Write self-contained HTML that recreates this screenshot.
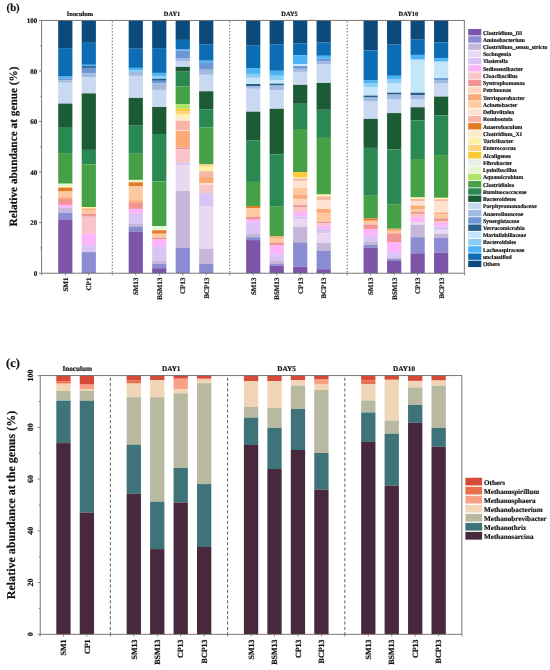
<!DOCTYPE html>
<html><head><meta charset="utf-8"><title>Relative abundance</title>
<style>
html,body{margin:0;padding:0;background:#fff;}
body{width:550px;height:670px;overflow:hidden;}
svg{display:block;filter:blur(0.4px);}
svg text{font-family:"Liberation Serif", serif;font-weight:bold;fill:#111;text-rendering:geometricPrecision;stroke:#111;stroke-width:0.18px;}
</style></head>
<body>
<svg width="550" height="670" viewBox="0 0 550 670">
<rect x="58.2" y="20.4" width="14.2" height="27.7" fill="#0c4a7c"/>
<rect x="58.2" y="48.1" width="14.2" height="28.5" fill="#0d6db4"/>
<rect x="58.2" y="76.6" width="14.2" height="1.8" fill="#4cb4f5"/>
<rect x="58.2" y="78.4" width="14.2" height="2.1" fill="#6c96d4"/>
<rect x="58.2" y="80.5" width="14.2" height="2.2" fill="#a1bae2"/>
<rect x="58.2" y="82.7" width="14.2" height="20.9" fill="#c9d9f1"/>
<rect x="58.2" y="103.6" width="14.2" height="23.4" fill="#1c5c34"/>
<rect x="58.2" y="127" width="14.2" height="26.1" fill="#2a8852"/>
<rect x="58.2" y="153.1" width="14.2" height="30.6" fill="#46a046"/>
<rect x="58.2" y="183.7" width="14.2" height="2.5" fill="#e6f6d2"/>
<rect x="58.2" y="186.2" width="14.2" height="1.4" fill="#fdf2a6"/>
<rect x="58.2" y="187.6" width="14.2" height="3.9" fill="#e07c28"/>
<rect x="58.2" y="191.5" width="14.2" height="5.6" fill="#fdc9a0"/>
<rect x="58.2" y="197.1" width="14.2" height="1.7" fill="#fcaa78"/>
<rect x="58.2" y="198.8" width="14.2" height="6.1" fill="#f39494"/>
<rect x="58.2" y="204.9" width="14.2" height="2.6" fill="#fcb4fa"/>
<rect x="58.2" y="207.5" width="14.2" height="5.4" fill="#c6b6da"/>
<rect x="58.2" y="212.9" width="14.2" height="7" fill="#8c8cd2"/>
<rect x="58.2" y="219.9" width="14.2" height="53.3" fill="#7d55a8"/>
<rect x="81.69" y="20.4" width="14.2" height="22.4" fill="#0c4a7c"/>
<rect x="81.69" y="42.8" width="14.2" height="22" fill="#0d6db4"/>
<rect x="81.69" y="64.8" width="14.2" height="1.3" fill="#4cb4f5"/>
<rect x="81.69" y="66.1" width="14.2" height="1.8" fill="#265e8c"/>
<rect x="81.69" y="67.9" width="14.2" height="5.6" fill="#6c96d4"/>
<rect x="81.69" y="73.5" width="14.2" height="3.5" fill="#a1bae2"/>
<rect x="81.69" y="77" width="14.2" height="16.4" fill="#c9d9f1"/>
<rect x="81.69" y="93.4" width="14.2" height="56.5" fill="#1c5c34"/>
<rect x="81.69" y="149.9" width="14.2" height="14.5" fill="#2a8852"/>
<rect x="81.69" y="164.4" width="14.2" height="42.6" fill="#46a046"/>
<rect x="81.69" y="207" width="14.2" height="1.5" fill="#fdf2a6"/>
<rect x="81.69" y="208.5" width="14.2" height="1.5" fill="#fcaa78"/>
<rect x="81.69" y="210" width="14.2" height="3.8" fill="#fdc9a0"/>
<rect x="81.69" y="213.8" width="14.2" height="2.9" fill="#f39494"/>
<rect x="81.69" y="216.7" width="14.2" height="17.1" fill="#f9c4c8"/>
<rect x="81.69" y="233.8" width="14.2" height="11.1" fill="#fcb4fa"/>
<rect x="81.69" y="244.9" width="14.2" height="7.2" fill="#dac4f6"/>
<rect x="81.69" y="252.1" width="14.2" height="21.1" fill="#8c8cd2"/>
<rect x="128.67" y="20.4" width="14.2" height="28.3" fill="#0c4a7c"/>
<rect x="128.67" y="48.7" width="14.2" height="19.2" fill="#0d6db4"/>
<rect x="128.67" y="67.9" width="14.2" height="2.6" fill="#4cb4f5"/>
<rect x="128.67" y="70.5" width="14.2" height="1.5" fill="#8acdf5"/>
<rect x="128.67" y="72" width="14.2" height="3.9" fill="#a1bae2"/>
<rect x="128.67" y="75.9" width="14.2" height="22" fill="#c9d9f1"/>
<rect x="128.67" y="97.9" width="14.2" height="27.8" fill="#1c5c34"/>
<rect x="128.67" y="125.7" width="14.2" height="28" fill="#2a8852"/>
<rect x="128.67" y="153.7" width="14.2" height="26.2" fill="#46a046"/>
<rect x="128.67" y="179.9" width="14.2" height="1.6" fill="#e6f6d2"/>
<rect x="128.67" y="181.5" width="14.2" height="0.8" fill="#fdf2a6"/>
<rect x="128.67" y="182.3" width="14.2" height="3.8" fill="#e07c28"/>
<rect x="128.67" y="186.1" width="14.2" height="14.2" fill="#fdc9a0"/>
<rect x="128.67" y="200.3" width="14.2" height="2.5" fill="#fcaa78"/>
<rect x="128.67" y="202.8" width="14.2" height="6.1" fill="#f39494"/>
<rect x="128.67" y="208.9" width="14.2" height="4.9" fill="#fcb4fa"/>
<rect x="128.67" y="213.8" width="14.2" height="10.1" fill="#dac4f6"/>
<rect x="128.67" y="223.9" width="14.2" height="2.6" fill="#c6b6da"/>
<rect x="128.67" y="226.5" width="14.2" height="5.4" fill="#8c8cd2"/>
<rect x="128.67" y="231.9" width="14.2" height="41.3" fill="#7d55a8"/>
<rect x="152.16" y="20.4" width="14.2" height="27.7" fill="#0c4a7c"/>
<rect x="152.16" y="48.1" width="14.2" height="24.8" fill="#0d6db4"/>
<rect x="152.16" y="72.9" width="14.2" height="3.6" fill="#4cb4f5"/>
<rect x="152.16" y="76.5" width="14.2" height="2.3" fill="#8acdf5"/>
<rect x="152.16" y="78.8" width="14.2" height="2" fill="#265e8c"/>
<rect x="152.16" y="80.8" width="14.2" height="2.7" fill="#6c96d4"/>
<rect x="152.16" y="83.5" width="14.2" height="6.4" fill="#a1bae2"/>
<rect x="152.16" y="89.9" width="14.2" height="17.1" fill="#c9d9f1"/>
<rect x="152.16" y="107" width="14.2" height="27" fill="#1c5c34"/>
<rect x="152.16" y="134" width="14.2" height="47.5" fill="#2a8852"/>
<rect x="152.16" y="181.5" width="14.2" height="44.5" fill="#46a046"/>
<rect x="152.16" y="226" width="14.2" height="4.3" fill="#e6f6d2"/>
<rect x="152.16" y="230.3" width="14.2" height="3.4" fill="#e07c28"/>
<rect x="152.16" y="233.7" width="14.2" height="4" fill="#fdc9a0"/>
<rect x="152.16" y="237.7" width="14.2" height="1.8" fill="#f39494"/>
<rect x="152.16" y="239.5" width="14.2" height="7.4" fill="#fcb4fa"/>
<rect x="152.16" y="246.9" width="14.2" height="13.5" fill="#dac4f6"/>
<rect x="152.16" y="260.4" width="14.2" height="3.3" fill="#c6b6da"/>
<rect x="152.16" y="263.7" width="14.2" height="4.5" fill="#8c8cd2"/>
<rect x="152.16" y="268.2" width="14.2" height="5" fill="#7d55a8"/>
<rect x="175.65" y="20.4" width="14.2" height="19.5" fill="#0c4a7c"/>
<rect x="175.65" y="39.9" width="14.2" height="9.6" fill="#0d6db4"/>
<rect x="175.65" y="49.5" width="14.2" height="1.1" fill="#4cb4f5"/>
<rect x="175.65" y="50.6" width="14.2" height="8" fill="#6c96d4"/>
<rect x="175.65" y="58.6" width="14.2" height="3" fill="#a1bae2"/>
<rect x="175.65" y="61.6" width="14.2" height="5.3" fill="#c9d9f1"/>
<rect x="175.65" y="66.9" width="14.2" height="4.8" fill="#1c5c34"/>
<rect x="175.65" y="71.7" width="14.2" height="14.6" fill="#2a8852"/>
<rect x="175.65" y="86.3" width="14.2" height="18" fill="#46a046"/>
<rect x="175.65" y="104.3" width="14.2" height="4.5" fill="#b0e468"/>
<rect x="175.65" y="108.8" width="14.2" height="2.3" fill="#fdc935"/>
<rect x="175.65" y="111.1" width="14.2" height="2.9" fill="#fdd480"/>
<rect x="175.65" y="114" width="14.2" height="3" fill="#fdf2a6"/>
<rect x="175.65" y="117" width="14.2" height="3.8" fill="#fdeccc"/>
<rect x="175.65" y="120.8" width="14.2" height="9.3" fill="#f9b6a6"/>
<rect x="175.65" y="130.1" width="14.2" height="0.8" fill="#fde3d0"/>
<rect x="175.65" y="130.9" width="14.2" height="16.4" fill="#fcaa78"/>
<rect x="175.65" y="147.3" width="14.2" height="2" fill="#f39494"/>
<rect x="175.65" y="149.3" width="14.2" height="13.6" fill="#f9c4c8"/>
<rect x="175.65" y="162.9" width="14.2" height="2.5" fill="#dac4f6"/>
<rect x="175.65" y="165.4" width="14.2" height="25.6" fill="#e8d8f2"/>
<rect x="175.65" y="191" width="14.2" height="56.8" fill="#c6b6da"/>
<rect x="175.65" y="247.8" width="14.2" height="25.4" fill="#8c8cd2"/>
<rect x="199.14" y="20.4" width="14.2" height="24.3" fill="#0c4a7c"/>
<rect x="199.14" y="44.7" width="14.2" height="16" fill="#0d6db4"/>
<rect x="199.14" y="60.7" width="14.2" height="2.2" fill="#4cb4f5"/>
<rect x="199.14" y="62.9" width="14.2" height="6.8" fill="#6c96d4"/>
<rect x="199.14" y="69.7" width="14.2" height="5.1" fill="#a1bae2"/>
<rect x="199.14" y="74.8" width="14.2" height="16.5" fill="#c9d9f1"/>
<rect x="199.14" y="91.3" width="14.2" height="18.3" fill="#1c5c34"/>
<rect x="199.14" y="109.6" width="14.2" height="18" fill="#2a8852"/>
<rect x="199.14" y="127.6" width="14.2" height="36.8" fill="#46a046"/>
<rect x="199.14" y="164.4" width="14.2" height="2.3" fill="#fdd480"/>
<rect x="199.14" y="166.7" width="14.2" height="4.5" fill="#fdf2a6"/>
<rect x="199.14" y="171.2" width="14.2" height="5.8" fill="#f9b6a6"/>
<rect x="199.14" y="177" width="14.2" height="6.4" fill="#fcaa78"/>
<rect x="199.14" y="183.4" width="14.2" height="1.4" fill="#fde3d0"/>
<rect x="199.14" y="184.8" width="14.2" height="8.3" fill="#f9c4c8"/>
<rect x="199.14" y="193.1" width="14.2" height="13" fill="#dac4f6"/>
<rect x="199.14" y="206.1" width="14.2" height="42.7" fill="#e8d8f2"/>
<rect x="199.14" y="248.8" width="14.2" height="14.9" fill="#c6b6da"/>
<rect x="199.14" y="263.7" width="14.2" height="9.5" fill="#8c8cd2"/>
<rect x="246.12" y="20.4" width="14.2" height="25.3" fill="#0c4a7c"/>
<rect x="246.12" y="45.7" width="14.2" height="22.4" fill="#0d6db4"/>
<rect x="246.12" y="68.1" width="14.2" height="5.8" fill="#4cb4f5"/>
<rect x="246.12" y="73.9" width="14.2" height="3.9" fill="#8acdf5"/>
<rect x="246.12" y="77.8" width="14.2" height="6.2" fill="#c4e6fb"/>
<rect x="246.12" y="84" width="14.2" height="2.3" fill="#265e8c"/>
<rect x="246.12" y="86.3" width="14.2" height="2.5" fill="#a1bae2"/>
<rect x="246.12" y="88.8" width="14.2" height="22.9" fill="#c9d9f1"/>
<rect x="246.12" y="111.7" width="14.2" height="28.5" fill="#1c5c34"/>
<rect x="246.12" y="140.2" width="14.2" height="41.7" fill="#2a8852"/>
<rect x="246.12" y="181.9" width="14.2" height="24.2" fill="#46a046"/>
<rect x="246.12" y="206.1" width="14.2" height="2" fill="#e07c28"/>
<rect x="246.12" y="208.1" width="14.2" height="8.7" fill="#fdc9a0"/>
<rect x="246.12" y="216.8" width="14.2" height="2.9" fill="#f39494"/>
<rect x="246.12" y="219.7" width="14.2" height="2.9" fill="#fcb4fa"/>
<rect x="246.12" y="222.6" width="14.2" height="11.3" fill="#dac4f6"/>
<rect x="246.12" y="233.9" width="14.2" height="3.3" fill="#c6b6da"/>
<rect x="246.12" y="237.2" width="14.2" height="2.9" fill="#8c8cd2"/>
<rect x="246.12" y="240.1" width="14.2" height="33.1" fill="#7d55a8"/>
<rect x="269.61" y="20.4" width="14.2" height="23.8" fill="#0c4a7c"/>
<rect x="269.61" y="44.2" width="14.2" height="26.6" fill="#0d6db4"/>
<rect x="269.61" y="70.8" width="14.2" height="5" fill="#4cb4f5"/>
<rect x="269.61" y="75.8" width="14.2" height="4.7" fill="#8acdf5"/>
<rect x="269.61" y="80.5" width="14.2" height="3.1" fill="#c4e6fb"/>
<rect x="269.61" y="83.6" width="14.2" height="1.9" fill="#265e8c"/>
<rect x="269.61" y="85.5" width="14.2" height="4.7" fill="#a1bae2"/>
<rect x="269.61" y="90.2" width="14.2" height="18.6" fill="#c9d9f1"/>
<rect x="269.61" y="108.8" width="14.2" height="45.5" fill="#1c5c34"/>
<rect x="269.61" y="154.3" width="14.2" height="52.4" fill="#2a8852"/>
<rect x="269.61" y="206.7" width="14.2" height="29.6" fill="#46a046"/>
<rect x="269.61" y="236.3" width="14.2" height="1.7" fill="#fcaa78"/>
<rect x="269.61" y="238" width="14.2" height="4.5" fill="#fdc9a0"/>
<rect x="269.61" y="242.5" width="14.2" height="3" fill="#f39494"/>
<rect x="269.61" y="245.5" width="14.2" height="9.1" fill="#fcb4fa"/>
<rect x="269.61" y="254.6" width="14.2" height="6.4" fill="#dac4f6"/>
<rect x="269.61" y="261" width="14.2" height="2.7" fill="#c6b6da"/>
<rect x="269.61" y="263.7" width="14.2" height="2" fill="#8c8cd2"/>
<rect x="269.61" y="265.7" width="14.2" height="7.5" fill="#7d55a8"/>
<rect x="293.1" y="20.4" width="14.2" height="23.2" fill="#0c4a7c"/>
<rect x="293.1" y="43.6" width="14.2" height="11.7" fill="#0d6db4"/>
<rect x="293.1" y="55.3" width="14.2" height="8.9" fill="#4cb4f5"/>
<rect x="293.1" y="64.2" width="14.2" height="1.9" fill="#c4e6fb"/>
<rect x="293.1" y="66.1" width="14.2" height="2.7" fill="#6c96d4"/>
<rect x="293.1" y="68.8" width="14.2" height="3.1" fill="#a1bae2"/>
<rect x="293.1" y="71.9" width="14.2" height="13" fill="#c9d9f1"/>
<rect x="293.1" y="84.9" width="14.2" height="18.9" fill="#1c5c34"/>
<rect x="293.1" y="103.8" width="14.2" height="25.2" fill="#2a8852"/>
<rect x="293.1" y="129" width="14.2" height="43.2" fill="#46a046"/>
<rect x="293.1" y="172.2" width="14.2" height="4.8" fill="#fdc935"/>
<rect x="293.1" y="177" width="14.2" height="1.4" fill="#fdf2a6"/>
<rect x="293.1" y="178.4" width="14.2" height="2.5" fill="#f9b6a6"/>
<rect x="293.1" y="180.9" width="14.2" height="6.8" fill="#fde3d0"/>
<rect x="293.1" y="187.7" width="14.2" height="6.8" fill="#fdc9a0"/>
<rect x="293.1" y="194.5" width="14.2" height="4.4" fill="#fcaa78"/>
<rect x="293.1" y="198.9" width="14.2" height="6.2" fill="#fdd5c0"/>
<rect x="293.1" y="205.1" width="14.2" height="2" fill="#f39494"/>
<rect x="293.1" y="207.1" width="14.2" height="4.8" fill="#f9c4c8"/>
<rect x="293.1" y="211.9" width="14.2" height="4.5" fill="#fcb4fa"/>
<rect x="293.1" y="216.4" width="14.2" height="2.7" fill="#dac4f6"/>
<rect x="293.1" y="219.1" width="14.2" height="7.8" fill="#e8d8f2"/>
<rect x="293.1" y="226.9" width="14.2" height="15.5" fill="#c6b6da"/>
<rect x="293.1" y="242.4" width="14.2" height="24.4" fill="#8c8cd2"/>
<rect x="293.1" y="266.8" width="14.2" height="6.4" fill="#7d55a8"/>
<rect x="316.59" y="20.4" width="14.2" height="22.2" fill="#0c4a7c"/>
<rect x="316.59" y="42.6" width="14.2" height="13.2" fill="#0d6db4"/>
<rect x="316.59" y="55.8" width="14.2" height="2.9" fill="#4cb4f5"/>
<rect x="316.59" y="58.7" width="14.2" height="2.4" fill="#6c96d4"/>
<rect x="316.59" y="61.1" width="14.2" height="3.5" fill="#a1bae2"/>
<rect x="316.59" y="64.6" width="14.2" height="18.4" fill="#c9d9f1"/>
<rect x="316.59" y="83" width="14.2" height="26.8" fill="#1c5c34"/>
<rect x="316.59" y="109.8" width="14.2" height="28.1" fill="#2a8852"/>
<rect x="316.59" y="137.9" width="14.2" height="56.6" fill="#46a046"/>
<rect x="316.59" y="194.5" width="14.2" height="1.9" fill="#fdf2a6"/>
<rect x="316.59" y="196.4" width="14.2" height="3.9" fill="#f9b6a6"/>
<rect x="316.59" y="200.3" width="14.2" height="8.7" fill="#fde3d0"/>
<rect x="316.59" y="209" width="14.2" height="3.9" fill="#fcaa78"/>
<rect x="316.59" y="212.9" width="14.2" height="8.7" fill="#fdc9a0"/>
<rect x="316.59" y="221.6" width="14.2" height="1.9" fill="#f39494"/>
<rect x="316.59" y="223.5" width="14.2" height="2" fill="#f9c4c8"/>
<rect x="316.59" y="225.5" width="14.2" height="3.3" fill="#fcb4fa"/>
<rect x="316.59" y="228.8" width="14.2" height="4.5" fill="#dac4f6"/>
<rect x="316.59" y="233.3" width="14.2" height="9.7" fill="#e8d8f2"/>
<rect x="316.59" y="243" width="14.2" height="7.7" fill="#c6b6da"/>
<rect x="316.59" y="250.7" width="14.2" height="18.5" fill="#8c8cd2"/>
<rect x="316.59" y="269.2" width="14.2" height="4" fill="#7d55a8"/>
<rect x="363.57" y="20.4" width="14.2" height="30" fill="#0c4a7c"/>
<rect x="363.57" y="50.4" width="14.2" height="29.7" fill="#0d6db4"/>
<rect x="363.57" y="80.1" width="14.2" height="3.5" fill="#4cb4f5"/>
<rect x="363.57" y="83.6" width="14.2" height="3.3" fill="#8acdf5"/>
<rect x="363.57" y="86.9" width="14.2" height="8.7" fill="#c4e6fb"/>
<rect x="363.57" y="95.6" width="14.2" height="1.9" fill="#265e8c"/>
<rect x="363.57" y="97.5" width="14.2" height="3.5" fill="#a1bae2"/>
<rect x="363.57" y="101" width="14.2" height="17.9" fill="#c9d9f1"/>
<rect x="363.57" y="118.9" width="14.2" height="29" fill="#1c5c34"/>
<rect x="363.57" y="147.9" width="14.2" height="47.2" fill="#2a8852"/>
<rect x="363.57" y="195.1" width="14.2" height="23.2" fill="#46a046"/>
<rect x="363.57" y="218.3" width="14.2" height="2.4" fill="#e07c28"/>
<rect x="363.57" y="220.7" width="14.2" height="3.8" fill="#fdc9a0"/>
<rect x="363.57" y="224.5" width="14.2" height="4.9" fill="#f39494"/>
<rect x="363.57" y="229.4" width="14.2" height="6.4" fill="#fcb4fa"/>
<rect x="363.57" y="235.8" width="14.2" height="6.2" fill="#dac4f6"/>
<rect x="363.57" y="242" width="14.2" height="2.9" fill="#c6b6da"/>
<rect x="363.57" y="244.9" width="14.2" height="2.9" fill="#8c8cd2"/>
<rect x="363.57" y="247.8" width="14.2" height="25.4" fill="#7d55a8"/>
<rect x="387.06" y="20.4" width="14.2" height="24.2" fill="#0c4a7c"/>
<rect x="387.06" y="44.6" width="14.2" height="31.2" fill="#0d6db4"/>
<rect x="387.06" y="75.8" width="14.2" height="3.3" fill="#4cb4f5"/>
<rect x="387.06" y="79.1" width="14.2" height="3.9" fill="#8acdf5"/>
<rect x="387.06" y="83" width="14.2" height="9.7" fill="#c4e6fb"/>
<rect x="387.06" y="92.7" width="14.2" height="1.9" fill="#265e8c"/>
<rect x="387.06" y="94.6" width="14.2" height="4.9" fill="#a1bae2"/>
<rect x="387.06" y="99.5" width="14.2" height="13.6" fill="#c9d9f1"/>
<rect x="387.06" y="113.1" width="14.2" height="36.2" fill="#1c5c34"/>
<rect x="387.06" y="149.3" width="14.2" height="54.9" fill="#2a8852"/>
<rect x="387.06" y="204.2" width="14.2" height="24.6" fill="#46a046"/>
<rect x="387.06" y="228.8" width="14.2" height="2.2" fill="#fcaa78"/>
<rect x="387.06" y="231" width="14.2" height="2.3" fill="#fdc9a0"/>
<rect x="387.06" y="233.3" width="14.2" height="8.7" fill="#f39494"/>
<rect x="387.06" y="242" width="14.2" height="10.1" fill="#fcb4fa"/>
<rect x="387.06" y="252.1" width="14.2" height="5.4" fill="#dac4f6"/>
<rect x="387.06" y="257.5" width="14.2" height="1.6" fill="#c6b6da"/>
<rect x="387.06" y="259.1" width="14.2" height="1.9" fill="#8c8cd2"/>
<rect x="387.06" y="261" width="14.2" height="12.2" fill="#7d55a8"/>
<rect x="410.55" y="20.4" width="14.2" height="19.3" fill="#0c4a7c"/>
<rect x="410.55" y="39.7" width="14.2" height="15.2" fill="#0d6db4"/>
<rect x="410.55" y="54.9" width="14.2" height="4.8" fill="#4cb4f5"/>
<rect x="410.55" y="59.7" width="14.2" height="33" fill="#c4e6fb"/>
<rect x="410.55" y="92.7" width="14.2" height="2.5" fill="#265e8c"/>
<rect x="410.55" y="95.2" width="14.2" height="4.3" fill="#a1bae2"/>
<rect x="410.55" y="99.5" width="14.2" height="7.8" fill="#c9d9f1"/>
<rect x="410.55" y="107.3" width="14.2" height="13" fill="#1c5c34"/>
<rect x="410.55" y="120.3" width="14.2" height="38.7" fill="#2a8852"/>
<rect x="410.55" y="159" width="14.2" height="38.4" fill="#46a046"/>
<rect x="410.55" y="197.4" width="14.2" height="1.5" fill="#fdf2a6"/>
<rect x="410.55" y="198.9" width="14.2" height="2.4" fill="#f9b6a6"/>
<rect x="410.55" y="201.3" width="14.2" height="4.2" fill="#fde3d0"/>
<rect x="410.55" y="205.5" width="14.2" height="3.9" fill="#fcaa78"/>
<rect x="410.55" y="209.4" width="14.2" height="2.5" fill="#fdc9a0"/>
<rect x="410.55" y="211.9" width="14.2" height="2" fill="#f39494"/>
<rect x="410.55" y="213.9" width="14.2" height="3.3" fill="#f9c4c8"/>
<rect x="410.55" y="217.2" width="14.2" height="5" fill="#fcb4fa"/>
<rect x="410.55" y="222.2" width="14.2" height="2.7" fill="#e8d8f2"/>
<rect x="410.55" y="224.9" width="14.2" height="12.3" fill="#c6b6da"/>
<rect x="410.55" y="237.2" width="14.2" height="16.1" fill="#8c8cd2"/>
<rect x="410.55" y="253.3" width="14.2" height="19.9" fill="#7d55a8"/>
<rect x="434.04" y="20.4" width="14.2" height="21.9" fill="#0c4a7c"/>
<rect x="434.04" y="42.3" width="14.2" height="16.1" fill="#0d6db4"/>
<rect x="434.04" y="58.4" width="14.2" height="3.3" fill="#4cb4f5"/>
<rect x="434.04" y="61.7" width="14.2" height="16.4" fill="#c4e6fb"/>
<rect x="434.04" y="78.1" width="14.2" height="2" fill="#6c96d4"/>
<rect x="434.04" y="80.1" width="14.2" height="3.5" fill="#a1bae2"/>
<rect x="434.04" y="83.6" width="14.2" height="13" fill="#c9d9f1"/>
<rect x="434.04" y="96.6" width="14.2" height="18.8" fill="#1c5c34"/>
<rect x="434.04" y="115.4" width="14.2" height="39.7" fill="#2a8852"/>
<rect x="434.04" y="155.1" width="14.2" height="42.7" fill="#46a046"/>
<rect x="434.04" y="197.8" width="14.2" height="1.5" fill="#fdf2a6"/>
<rect x="434.04" y="199.3" width="14.2" height="2" fill="#f9b6a6"/>
<rect x="434.04" y="201.3" width="14.2" height="11.2" fill="#fde3d0"/>
<rect x="434.04" y="212.5" width="14.2" height="2" fill="#fcaa78"/>
<rect x="434.04" y="214.5" width="14.2" height="3.8" fill="#fdc9a0"/>
<rect x="434.04" y="218.3" width="14.2" height="2.8" fill="#f39494"/>
<rect x="434.04" y="221.1" width="14.2" height="1.9" fill="#f9c4c8"/>
<rect x="434.04" y="223" width="14.2" height="3.5" fill="#fcb4fa"/>
<rect x="434.04" y="226.5" width="14.2" height="3.9" fill="#dac4f6"/>
<rect x="434.04" y="230.4" width="14.2" height="3.5" fill="#e8d8f2"/>
<rect x="434.04" y="233.9" width="14.2" height="3.8" fill="#c6b6da"/>
<rect x="434.04" y="237.7" width="14.2" height="15" fill="#8c8cd2"/>
<rect x="434.04" y="252.7" width="14.2" height="20.5" fill="#7d55a8"/>
<line x1="112.28" y1="21.4" x2="112.28" y2="273.2" stroke="#707070" stroke-width="1" stroke-dasharray="1.5 1.7"/>
<line x1="229.73" y1="21.4" x2="229.73" y2="273.2" stroke="#707070" stroke-width="1" stroke-dasharray="1.5 1.7"/>
<line x1="347.18" y1="21.4" x2="347.18" y2="273.2" stroke="#707070" stroke-width="1" stroke-dasharray="1.5 1.7"/>
<rect x="41.6" y="20.4" width="422.7" height="252.8" fill="none" stroke="#6a6a6a" stroke-width="0.9"/>
<line x1="39" y1="273.2" x2="41.6" y2="273.2" stroke="#6a6a6a" stroke-width="0.8"/>
<text x="37.2" y="274" font-size="7" text-anchor="end" dominant-baseline="central">0</text>
<line x1="40.2" y1="247.92" x2="41.6" y2="247.92" stroke="#6a6a6a" stroke-width="0.8"/>
<line x1="39" y1="222.64" x2="41.6" y2="222.64" stroke="#6a6a6a" stroke-width="0.8"/>
<text x="37.2" y="223.44" font-size="7" text-anchor="end" dominant-baseline="central">20</text>
<line x1="40.2" y1="197.36" x2="41.6" y2="197.36" stroke="#6a6a6a" stroke-width="0.8"/>
<line x1="39" y1="172.08" x2="41.6" y2="172.08" stroke="#6a6a6a" stroke-width="0.8"/>
<text x="37.2" y="172.88" font-size="7" text-anchor="end" dominant-baseline="central">40</text>
<line x1="40.2" y1="146.8" x2="41.6" y2="146.8" stroke="#6a6a6a" stroke-width="0.8"/>
<line x1="39" y1="121.52" x2="41.6" y2="121.52" stroke="#6a6a6a" stroke-width="0.8"/>
<text x="37.2" y="122.32" font-size="7" text-anchor="end" dominant-baseline="central">60</text>
<line x1="40.2" y1="96.24" x2="41.6" y2="96.24" stroke="#6a6a6a" stroke-width="0.8"/>
<line x1="39" y1="70.96" x2="41.6" y2="70.96" stroke="#6a6a6a" stroke-width="0.8"/>
<text x="37.2" y="71.76" font-size="7" text-anchor="end" dominant-baseline="central">80</text>
<line x1="40.2" y1="45.68" x2="41.6" y2="45.68" stroke="#6a6a6a" stroke-width="0.8"/>
<line x1="39" y1="20.4" x2="41.6" y2="20.4" stroke="#6a6a6a" stroke-width="0.8"/>
<text x="37.2" y="21.2" font-size="7" text-anchor="end" dominant-baseline="central">100</text>
<line x1="41.81" y1="273.2" x2="41.81" y2="275.4" stroke="#6a6a6a" stroke-width="0.8"/>
<line x1="65.3" y1="273.2" x2="65.3" y2="275.4" stroke="#6a6a6a" stroke-width="0.8"/>
<line x1="88.79" y1="273.2" x2="88.79" y2="275.4" stroke="#6a6a6a" stroke-width="0.8"/>
<line x1="112.28" y1="273.2" x2="112.28" y2="275.4" stroke="#6a6a6a" stroke-width="0.8"/>
<line x1="135.77" y1="273.2" x2="135.77" y2="275.4" stroke="#6a6a6a" stroke-width="0.8"/>
<line x1="159.26" y1="273.2" x2="159.26" y2="275.4" stroke="#6a6a6a" stroke-width="0.8"/>
<line x1="182.75" y1="273.2" x2="182.75" y2="275.4" stroke="#6a6a6a" stroke-width="0.8"/>
<line x1="206.24" y1="273.2" x2="206.24" y2="275.4" stroke="#6a6a6a" stroke-width="0.8"/>
<line x1="229.73" y1="273.2" x2="229.73" y2="275.4" stroke="#6a6a6a" stroke-width="0.8"/>
<line x1="253.22" y1="273.2" x2="253.22" y2="275.4" stroke="#6a6a6a" stroke-width="0.8"/>
<line x1="276.71" y1="273.2" x2="276.71" y2="275.4" stroke="#6a6a6a" stroke-width="0.8"/>
<line x1="300.2" y1="273.2" x2="300.2" y2="275.4" stroke="#6a6a6a" stroke-width="0.8"/>
<line x1="323.69" y1="273.2" x2="323.69" y2="275.4" stroke="#6a6a6a" stroke-width="0.8"/>
<line x1="347.18" y1="273.2" x2="347.18" y2="275.4" stroke="#6a6a6a" stroke-width="0.8"/>
<line x1="370.67" y1="273.2" x2="370.67" y2="275.4" stroke="#6a6a6a" stroke-width="0.8"/>
<line x1="394.16" y1="273.2" x2="394.16" y2="275.4" stroke="#6a6a6a" stroke-width="0.8"/>
<line x1="417.65" y1="273.2" x2="417.65" y2="275.4" stroke="#6a6a6a" stroke-width="0.8"/>
<line x1="441.14" y1="273.2" x2="441.14" y2="275.4" stroke="#6a6a6a" stroke-width="0.8"/>
<line x1="464.63" y1="273.2" x2="464.63" y2="275.4" stroke="#6a6a6a" stroke-width="0.8"/>
<text transform="translate(67.7,277.6) rotate(-90)" font-size="7" text-anchor="end">SM1</text>
<text transform="translate(91.19,277.6) rotate(-90)" font-size="7" text-anchor="end">CP1</text>
<text transform="translate(138.17,277.6) rotate(-90)" font-size="7" text-anchor="end">SM13</text>
<text transform="translate(161.66,277.6) rotate(-90)" font-size="7" text-anchor="end">BSM13</text>
<text transform="translate(185.15,277.6) rotate(-90)" font-size="7" text-anchor="end">CP13</text>
<text transform="translate(208.64,277.6) rotate(-90)" font-size="7" text-anchor="end">BCP13</text>
<text transform="translate(255.62,277.6) rotate(-90)" font-size="7" text-anchor="end">SM13</text>
<text transform="translate(279.11,277.6) rotate(-90)" font-size="7" text-anchor="end">BSM13</text>
<text transform="translate(302.6,277.6) rotate(-90)" font-size="7" text-anchor="end">CP13</text>
<text transform="translate(326.09,277.6) rotate(-90)" font-size="7" text-anchor="end">BCP13</text>
<text transform="translate(373.07,277.6) rotate(-90)" font-size="7" text-anchor="end">SM13</text>
<text transform="translate(396.56,277.6) rotate(-90)" font-size="7" text-anchor="end">BSM13</text>
<text transform="translate(420.05,277.6) rotate(-90)" font-size="7" text-anchor="end">CP13</text>
<text transform="translate(443.54,277.6) rotate(-90)" font-size="7" text-anchor="end">BCP13</text>
<text x="80" y="15.6" font-size="6.4" text-anchor="middle">Inoculum</text>
<text x="172.1" y="15.6" font-size="6.4" text-anchor="middle">DAY1</text>
<text x="289.6" y="15.6" font-size="6.4" text-anchor="middle">DAY5</text>
<text x="408.4" y="15.6" font-size="6.4" text-anchor="middle">DAY10</text>
<text transform="translate(16.6,146.4) rotate(-90)" font-size="11.3" text-anchor="middle">Relative abundance at genue (%)</text>
<text x="6.6" y="10.6" font-size="10.7">(b)</text>
<rect x="468.2" y="29" width="13.1" height="6.4" fill="#7d55a8"/>
<text x="482.9" y="34.5" font-size="5.75">Clostridium_III</text>
<rect x="468.2" y="36.24" width="13.1" height="6.4" fill="#8c8cd2"/>
<text x="482.9" y="41.74" font-size="5.75">Aminobacterium</text>
<rect x="468.2" y="43.48" width="13.1" height="6.4" fill="#c6b6da"/>
<text x="482.9" y="48.98" font-size="5.75">Clostridium_sensu_stricto</text>
<rect x="468.2" y="50.72" width="13.1" height="6.4" fill="#e8d8f2"/>
<text x="482.9" y="56.22" font-size="5.75">Sochngenia</text>
<rect x="468.2" y="57.96" width="13.1" height="6.4" fill="#dac4f6"/>
<text x="482.9" y="63.46" font-size="5.75">Tissierella</text>
<rect x="468.2" y="65.2" width="13.1" height="6.4" fill="#fcb4fa"/>
<text x="482.9" y="70.7" font-size="5.75">Sedimentibacter</text>
<rect x="468.2" y="72.44" width="13.1" height="6.4" fill="#f9c4c8"/>
<text x="482.9" y="77.94" font-size="5.75">Cloacibacillus</text>
<rect x="468.2" y="79.68" width="13.1" height="6.4" fill="#f39494"/>
<text x="482.9" y="85.18" font-size="5.75">Syntrophomonas</text>
<rect x="468.2" y="86.92" width="13.1" height="6.4" fill="#fdd5c0"/>
<text x="482.9" y="92.42" font-size="5.75">Petrimonas</text>
<rect x="468.2" y="94.16" width="13.1" height="6.4" fill="#fcaa78"/>
<text x="482.9" y="99.66" font-size="5.75">Terrisporobacter</text>
<rect x="468.2" y="101.4" width="13.1" height="6.4" fill="#fdc9a0"/>
<text x="482.9" y="106.9" font-size="5.75">Acinetobacter</text>
<rect x="468.2" y="108.64" width="13.1" height="6.4" fill="#fde3d0"/>
<text x="482.9" y="114.14" font-size="5.75">Defluviitalea</text>
<rect x="468.2" y="115.88" width="13.1" height="6.4" fill="#f9b6a6"/>
<text x="482.9" y="121.38" font-size="5.75">Romboutsia</text>
<rect x="468.2" y="123.12" width="13.1" height="6.4" fill="#e07c28"/>
<text x="482.9" y="128.62" font-size="5.75">Anaerobaculum</text>
<rect x="468.2" y="130.36" width="13.1" height="6.4" fill="#fdeccc"/>
<text x="482.9" y="135.86" font-size="5.75">Clostridium_XI</text>
<rect x="468.2" y="137.6" width="13.1" height="6.4" fill="#fdf2a6"/>
<text x="482.9" y="143.1" font-size="5.75">Turicibacter</text>
<rect x="468.2" y="144.84" width="13.1" height="6.4" fill="#fdd480"/>
<text x="482.9" y="150.34" font-size="5.75">Enterococcus</text>
<rect x="468.2" y="152.08" width="13.1" height="6.4" fill="#fdc935"/>
<text x="482.9" y="157.58" font-size="5.75">Alcaligenes</text>
<rect x="468.2" y="159.32" width="13.1" height="6.4" fill="#e6eee6"/>
<text x="482.9" y="164.82" font-size="5.75">Fibrobacter</text>
<rect x="468.2" y="166.56" width="13.1" height="6.4" fill="#e6f6d2"/>
<text x="482.9" y="172.06" font-size="5.75">Lysinibacillus</text>
<rect x="468.2" y="173.8" width="13.1" height="6.4" fill="#b0e468"/>
<text x="482.9" y="179.3" font-size="5.75">Aquamicrobium</text>
<rect x="468.2" y="181.04" width="13.1" height="6.4" fill="#46a046"/>
<text x="482.9" y="186.54" font-size="5.75">Clostridiales</text>
<rect x="468.2" y="188.28" width="13.1" height="6.4" fill="#2a8852"/>
<text x="482.9" y="193.78" font-size="5.75">Ruminococcaceae</text>
<rect x="468.2" y="195.52" width="13.1" height="6.4" fill="#1c5c34"/>
<text x="482.9" y="201.02" font-size="5.75">Bacteroidetes</text>
<rect x="468.2" y="202.76" width="13.1" height="6.4" fill="#c9d9f1"/>
<text x="482.9" y="208.26" font-size="5.75">Porphyromonadaceae</text>
<rect x="468.2" y="210" width="13.1" height="6.4" fill="#a1bae2"/>
<text x="482.9" y="215.5" font-size="5.75">Anaerolineaceae</text>
<rect x="468.2" y="217.24" width="13.1" height="6.4" fill="#6c96d4"/>
<text x="482.9" y="222.74" font-size="5.75">Synergistaceae</text>
<rect x="468.2" y="224.48" width="13.1" height="6.4" fill="#265e8c"/>
<text x="482.9" y="229.98" font-size="5.75">Verrucomicrobia</text>
<rect x="468.2" y="231.72" width="13.1" height="6.4" fill="#c4e6fb"/>
<text x="482.9" y="237.22" font-size="5.75">Marinilabiliaceae</text>
<rect x="468.2" y="238.96" width="13.1" height="6.4" fill="#8acdf5"/>
<text x="482.9" y="244.46" font-size="5.75">Bacteroidales</text>
<rect x="468.2" y="246.2" width="13.1" height="6.4" fill="#4cb4f5"/>
<text x="482.9" y="251.7" font-size="5.75">Lachnospiraceae</text>
<rect x="468.2" y="253.44" width="13.1" height="6.4" fill="#0d6db4"/>
<text x="482.9" y="258.94" font-size="5.75">unclassified</text>
<rect x="468.2" y="260.68" width="13.1" height="6.4" fill="#0c4a7c"/>
<text x="482.9" y="266.18" font-size="5.75">Others</text>
<rect x="56.3" y="375.6" width="14.3" height="5.7" fill="#d84a38"/>
<rect x="56.3" y="381.3" width="14.3" height="1.9" fill="#e8704c"/>
<rect x="56.3" y="383.2" width="14.3" height="1.4" fill="#f9a184"/>
<rect x="56.3" y="384.6" width="14.3" height="6.4" fill="#f0d6b6"/>
<rect x="56.3" y="391" width="14.3" height="9.7" fill="#b9b8a0"/>
<rect x="56.3" y="400.7" width="14.3" height="42.4" fill="#3e7379"/>
<rect x="56.3" y="443.1" width="14.3" height="191.2" fill="#48283c"/>
<rect x="79.75" y="375.6" width="14.3" height="9" fill="#d84a38"/>
<rect x="79.75" y="384.6" width="14.3" height="4.4" fill="#f9a184"/>
<rect x="79.75" y="389" width="14.3" height="2" fill="#f0d6b6"/>
<rect x="79.75" y="391" width="14.3" height="9.7" fill="#b9b8a0"/>
<rect x="79.75" y="400.7" width="14.3" height="111.8" fill="#3e7379"/>
<rect x="79.75" y="512.5" width="14.3" height="121.8" fill="#48283c"/>
<rect x="126.65" y="375.6" width="14.3" height="5.1" fill="#d84a38"/>
<rect x="126.65" y="380.7" width="14.3" height="2.9" fill="#e8704c"/>
<rect x="126.65" y="383.6" width="14.3" height="13.6" fill="#f0d6b6"/>
<rect x="126.65" y="397.2" width="14.3" height="47.5" fill="#b9b8a0"/>
<rect x="126.65" y="444.7" width="14.3" height="49.1" fill="#3e7379"/>
<rect x="126.65" y="493.8" width="14.3" height="140.5" fill="#48283c"/>
<rect x="150.1" y="375.6" width="14.3" height="4.5" fill="#d84a38"/>
<rect x="150.1" y="380.1" width="14.3" height="17.1" fill="#f0d6b6"/>
<rect x="150.1" y="397.2" width="14.3" height="104.5" fill="#b9b8a0"/>
<rect x="150.1" y="501.7" width="14.3" height="47.4" fill="#3e7379"/>
<rect x="150.1" y="549.1" width="14.3" height="85.2" fill="#48283c"/>
<rect x="173.55" y="375.6" width="14.3" height="3.1" fill="#d84a38"/>
<rect x="173.55" y="378.7" width="14.3" height="10.7" fill="#f9a184"/>
<rect x="173.55" y="389.4" width="14.3" height="3.9" fill="#f0d6b6"/>
<rect x="173.55" y="393.3" width="14.3" height="74.7" fill="#b9b8a0"/>
<rect x="173.55" y="468" width="14.3" height="34.5" fill="#3e7379"/>
<rect x="173.55" y="502.5" width="14.3" height="131.8" fill="#48283c"/>
<rect x="197" y="375.6" width="14.3" height="3.1" fill="#d84a38"/>
<rect x="197" y="378.7" width="14.3" height="1" fill="#f9a184"/>
<rect x="197" y="379.7" width="14.3" height="3.5" fill="#f0d6b6"/>
<rect x="197" y="383.2" width="14.3" height="100.9" fill="#b9b8a0"/>
<rect x="197" y="484.1" width="14.3" height="62.9" fill="#3e7379"/>
<rect x="197" y="547" width="14.3" height="87.3" fill="#48283c"/>
<rect x="243.9" y="375.6" width="14.3" height="5.4" fill="#d84a38"/>
<rect x="243.9" y="381" width="14.3" height="26" fill="#f0d6b6"/>
<rect x="243.9" y="407" width="14.3" height="10.6" fill="#b9b8a0"/>
<rect x="243.9" y="417.6" width="14.3" height="27.4" fill="#3e7379"/>
<rect x="243.9" y="445" width="14.3" height="189.3" fill="#48283c"/>
<rect x="267.35" y="375.6" width="14.3" height="5.4" fill="#d84a38"/>
<rect x="267.35" y="381" width="14.3" height="27" fill="#f0d6b6"/>
<rect x="267.35" y="408" width="14.3" height="20" fill="#b9b8a0"/>
<rect x="267.35" y="428" width="14.3" height="41" fill="#3e7379"/>
<rect x="267.35" y="469" width="14.3" height="165.3" fill="#48283c"/>
<rect x="290.8" y="375.6" width="14.3" height="4.4" fill="#d84a38"/>
<rect x="290.8" y="380" width="14.3" height="5.6" fill="#f0d6b6"/>
<rect x="290.8" y="385.6" width="14.3" height="23.4" fill="#b9b8a0"/>
<rect x="290.8" y="409" width="14.3" height="41" fill="#3e7379"/>
<rect x="290.8" y="450" width="14.3" height="184.3" fill="#48283c"/>
<rect x="314.25" y="375.6" width="14.3" height="4" fill="#d84a38"/>
<rect x="314.25" y="379.6" width="14.3" height="4.4" fill="#f9a184"/>
<rect x="314.25" y="384" width="14.3" height="6" fill="#f0d6b6"/>
<rect x="314.25" y="390" width="14.3" height="63" fill="#b9b8a0"/>
<rect x="314.25" y="453" width="14.3" height="36.6" fill="#3e7379"/>
<rect x="314.25" y="489.6" width="14.3" height="144.7" fill="#48283c"/>
<rect x="361.15" y="375.6" width="14.3" height="4.9" fill="#d84a38"/>
<rect x="361.15" y="380.5" width="14.3" height="3.7" fill="#e8704c"/>
<rect x="361.15" y="384.2" width="14.3" height="16.3" fill="#f0d6b6"/>
<rect x="361.15" y="400.5" width="14.3" height="12" fill="#b9b8a0"/>
<rect x="361.15" y="412.5" width="14.3" height="29.5" fill="#3e7379"/>
<rect x="361.15" y="442" width="14.3" height="192.3" fill="#48283c"/>
<rect x="384.6" y="375.6" width="14.3" height="4.2" fill="#d84a38"/>
<rect x="384.6" y="379.8" width="14.3" height="40.8" fill="#f0d6b6"/>
<rect x="384.6" y="420.6" width="14.3" height="13.1" fill="#b9b8a0"/>
<rect x="384.6" y="433.7" width="14.3" height="51.9" fill="#3e7379"/>
<rect x="384.6" y="485.6" width="14.3" height="148.7" fill="#48283c"/>
<rect x="408.05" y="375.6" width="14.3" height="5.3" fill="#d84a38"/>
<rect x="408.05" y="380.9" width="14.3" height="6.6" fill="#f0d6b6"/>
<rect x="408.05" y="387.5" width="14.3" height="17.4" fill="#b9b8a0"/>
<rect x="408.05" y="404.9" width="14.3" height="17.9" fill="#3e7379"/>
<rect x="408.05" y="422.8" width="14.3" height="211.5" fill="#48283c"/>
<rect x="431.5" y="375.6" width="14.3" height="4.9" fill="#d84a38"/>
<rect x="431.5" y="380.5" width="14.3" height="5.2" fill="#f0d6b6"/>
<rect x="431.5" y="385.7" width="14.3" height="42.1" fill="#b9b8a0"/>
<rect x="431.5" y="427.8" width="14.3" height="19" fill="#3e7379"/>
<rect x="431.5" y="446.8" width="14.3" height="187.5" fill="#48283c"/>
<line x1="110.35" y1="376.6" x2="110.35" y2="634.3" stroke="#505050" stroke-width="0.9" stroke-dasharray="3.2 2.1" stroke-dashoffset="-1.1"/>
<line x1="227.6" y1="376.6" x2="227.6" y2="634.3" stroke="#505050" stroke-width="0.9" stroke-dasharray="3.2 2.1" stroke-dashoffset="-1.1"/>
<line x1="344.85" y1="376.6" x2="344.85" y2="634.3" stroke="#505050" stroke-width="0.9" stroke-dasharray="3.2 2.1" stroke-dashoffset="-1.1"/>
<rect x="40.2" y="375.6" width="421.6" height="258.7" fill="none" stroke="#6a6a6a" stroke-width="0.9"/>
<line x1="37.6" y1="634.3" x2="40.2" y2="634.3" stroke="#6a6a6a" stroke-width="0.8"/>
<text transform="translate(33.4,634.3) rotate(-90)" font-size="8" text-anchor="middle">0</text>
<line x1="38.8" y1="608.43" x2="40.2" y2="608.43" stroke="#6a6a6a" stroke-width="0.8"/>
<line x1="37.6" y1="582.56" x2="40.2" y2="582.56" stroke="#6a6a6a" stroke-width="0.8"/>
<text transform="translate(33.4,582.56) rotate(-90)" font-size="8" text-anchor="middle">20</text>
<line x1="38.8" y1="556.69" x2="40.2" y2="556.69" stroke="#6a6a6a" stroke-width="0.8"/>
<line x1="37.6" y1="530.82" x2="40.2" y2="530.82" stroke="#6a6a6a" stroke-width="0.8"/>
<text transform="translate(33.4,530.82) rotate(-90)" font-size="8" text-anchor="middle">40</text>
<line x1="38.8" y1="504.95" x2="40.2" y2="504.95" stroke="#6a6a6a" stroke-width="0.8"/>
<line x1="37.6" y1="479.08" x2="40.2" y2="479.08" stroke="#6a6a6a" stroke-width="0.8"/>
<text transform="translate(33.4,479.08) rotate(-90)" font-size="8" text-anchor="middle">60</text>
<line x1="38.8" y1="453.21" x2="40.2" y2="453.21" stroke="#6a6a6a" stroke-width="0.8"/>
<line x1="37.6" y1="427.34" x2="40.2" y2="427.34" stroke="#6a6a6a" stroke-width="0.8"/>
<text transform="translate(33.4,427.34) rotate(-90)" font-size="8" text-anchor="middle">80</text>
<line x1="38.8" y1="401.47" x2="40.2" y2="401.47" stroke="#6a6a6a" stroke-width="0.8"/>
<line x1="37.6" y1="375.6" x2="40.2" y2="375.6" stroke="#6a6a6a" stroke-width="0.8"/>
<text transform="translate(33.4,375.6) rotate(-90)" font-size="8" text-anchor="middle">100</text>
<line x1="40" y1="634.3" x2="40" y2="636.5" stroke="#6a6a6a" stroke-width="0.8"/>
<line x1="63.45" y1="634.3" x2="63.45" y2="636.5" stroke="#6a6a6a" stroke-width="0.8"/>
<line x1="86.9" y1="634.3" x2="86.9" y2="636.5" stroke="#6a6a6a" stroke-width="0.8"/>
<line x1="110.35" y1="634.3" x2="110.35" y2="636.5" stroke="#6a6a6a" stroke-width="0.8"/>
<line x1="133.8" y1="634.3" x2="133.8" y2="636.5" stroke="#6a6a6a" stroke-width="0.8"/>
<line x1="157.25" y1="634.3" x2="157.25" y2="636.5" stroke="#6a6a6a" stroke-width="0.8"/>
<line x1="180.7" y1="634.3" x2="180.7" y2="636.5" stroke="#6a6a6a" stroke-width="0.8"/>
<line x1="204.15" y1="634.3" x2="204.15" y2="636.5" stroke="#6a6a6a" stroke-width="0.8"/>
<line x1="227.6" y1="634.3" x2="227.6" y2="636.5" stroke="#6a6a6a" stroke-width="0.8"/>
<line x1="251.05" y1="634.3" x2="251.05" y2="636.5" stroke="#6a6a6a" stroke-width="0.8"/>
<line x1="274.5" y1="634.3" x2="274.5" y2="636.5" stroke="#6a6a6a" stroke-width="0.8"/>
<line x1="297.95" y1="634.3" x2="297.95" y2="636.5" stroke="#6a6a6a" stroke-width="0.8"/>
<line x1="321.4" y1="634.3" x2="321.4" y2="636.5" stroke="#6a6a6a" stroke-width="0.8"/>
<line x1="344.85" y1="634.3" x2="344.85" y2="636.5" stroke="#6a6a6a" stroke-width="0.8"/>
<line x1="368.3" y1="634.3" x2="368.3" y2="636.5" stroke="#6a6a6a" stroke-width="0.8"/>
<line x1="391.75" y1="634.3" x2="391.75" y2="636.5" stroke="#6a6a6a" stroke-width="0.8"/>
<line x1="415.2" y1="634.3" x2="415.2" y2="636.5" stroke="#6a6a6a" stroke-width="0.8"/>
<line x1="438.65" y1="634.3" x2="438.65" y2="636.5" stroke="#6a6a6a" stroke-width="0.8"/>
<line x1="462.1" y1="634.3" x2="462.1" y2="636.5" stroke="#6a6a6a" stroke-width="0.8"/>
<text transform="translate(66.15,639.4) rotate(-90)" font-size="8" text-anchor="end">SM1</text>
<text transform="translate(89.6,639.4) rotate(-90)" font-size="8" text-anchor="end">CP1</text>
<text transform="translate(136.5,639.4) rotate(-90)" font-size="8" text-anchor="end">SM13</text>
<text transform="translate(159.95,639.4) rotate(-90)" font-size="8" text-anchor="end">BSM13</text>
<text transform="translate(183.4,639.4) rotate(-90)" font-size="8" text-anchor="end">CP13</text>
<text transform="translate(206.85,639.4) rotate(-90)" font-size="8" text-anchor="end">BCP13</text>
<text transform="translate(253.75,639.4) rotate(-90)" font-size="8" text-anchor="end">SM13</text>
<text transform="translate(277.2,639.4) rotate(-90)" font-size="8" text-anchor="end">BSM13</text>
<text transform="translate(300.65,639.4) rotate(-90)" font-size="8" text-anchor="end">CP13</text>
<text transform="translate(324.1,639.4) rotate(-90)" font-size="8" text-anchor="end">BCP13</text>
<text transform="translate(371,639.4) rotate(-90)" font-size="8" text-anchor="end">SM13</text>
<text transform="translate(394.45,639.4) rotate(-90)" font-size="8" text-anchor="end">BSM13</text>
<text transform="translate(417.9,639.4) rotate(-90)" font-size="8" text-anchor="end">CP13</text>
<text transform="translate(441.35,639.4) rotate(-90)" font-size="8" text-anchor="end">BCP13</text>
<text x="77.2" y="371.2" font-size="7.2" text-anchor="middle">Inoculum</text>
<text x="171.2" y="371.2" font-size="7.2" text-anchor="middle">DAY1</text>
<text x="286.5" y="371.2" font-size="7.2" text-anchor="middle">DAY5</text>
<text x="404" y="371.2" font-size="7.2" text-anchor="middle">DAY10</text>
<text transform="translate(14.9,505) rotate(-90)" font-size="12" text-anchor="middle">Relative abundance at the genus (%)</text>
<text x="6.1" y="366.9" font-size="12.4">(c)</text>
<rect x="465.4" y="477.75" width="16.7" height="7.7" fill="#d84a38"/>
<text x="484" y="484.5" font-size="7.15">Others</text>
<rect x="465.4" y="486.78" width="16.7" height="7.7" fill="#e8704c"/>
<text x="484" y="493.53" font-size="7.15">Methanospirillum</text>
<rect x="465.4" y="495.81" width="16.7" height="7.7" fill="#f9a184"/>
<text x="484" y="502.56" font-size="7.15">Methanosphaera</text>
<rect x="465.4" y="504.84" width="16.7" height="7.7" fill="#f0d6b6"/>
<text x="484" y="511.59" font-size="7.15">Methanobacterium</text>
<rect x="465.4" y="513.87" width="16.7" height="7.7" fill="#b9b8a0"/>
<text x="484" y="520.62" font-size="7.15">Methanobrevibacter</text>
<rect x="465.4" y="522.9" width="16.7" height="7.7" fill="#3e7379"/>
<text x="484" y="529.65" font-size="7.15">Methanothrix</text>
<rect x="465.4" y="531.93" width="16.7" height="7.7" fill="#48283c"/>
<text x="484" y="538.68" font-size="7.15">Methanosarcina</text>
</svg>
</body></html>
